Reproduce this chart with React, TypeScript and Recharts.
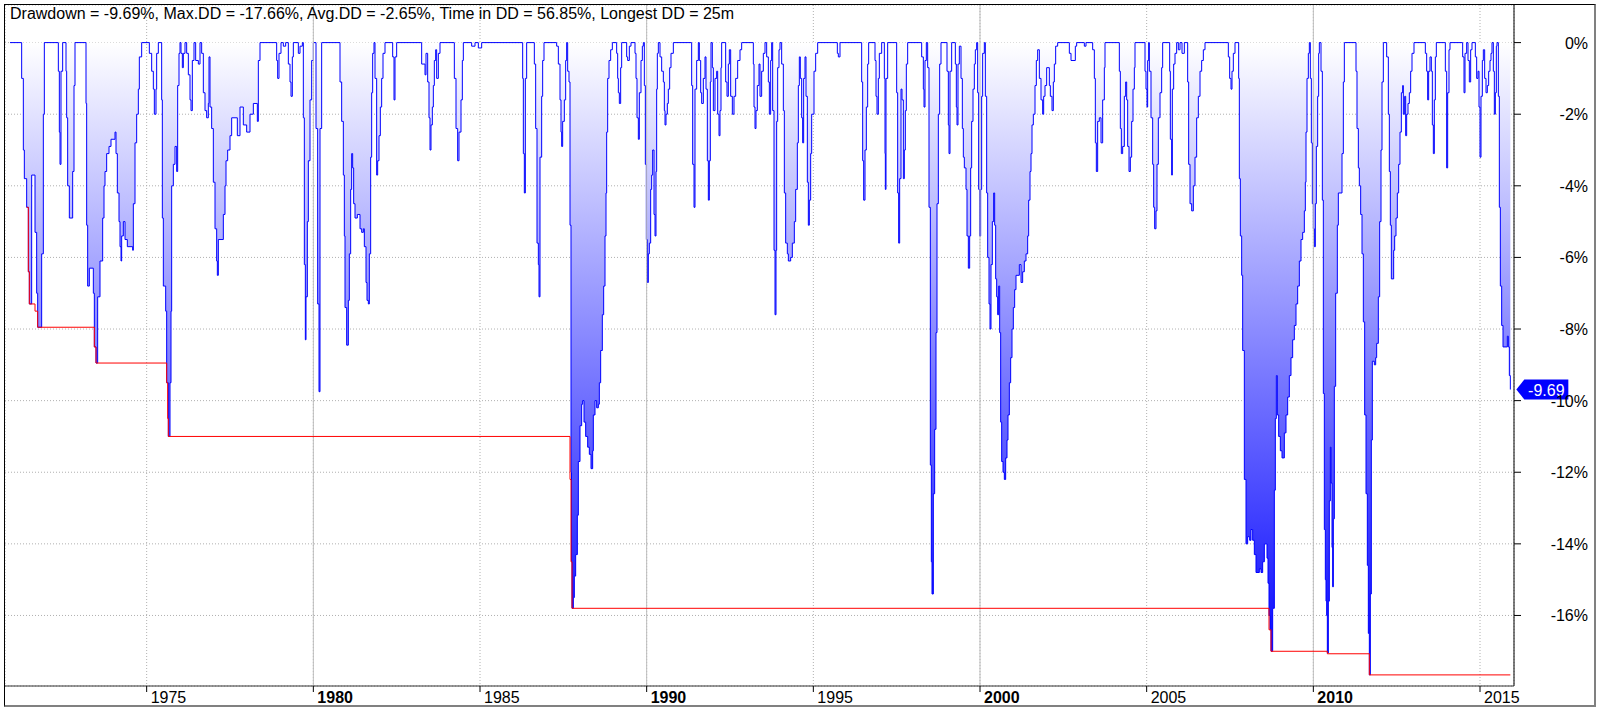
import React from 'react';
import {
  Area,
  CartesianGrid,
  ComposedChart,
  Line,
  ReferenceDot,
  ReferenceLine,
  XAxis,
  YAxis,
} from 'recharts';

// [year, drawdown %], one list per stretch of years
const dd1971to1977: [number, number][] = [
  [1970.9, 0], [1971.25, -1.0], [1971.3, -3.0], [1971.33, -3.8], [1971.4, -4.6], [1971.45, -6.4],
  [1971.48, -7.3], [1971.55, -3.7], [1971.65, -5.3], [1971.7, -7.0], [1971.73, -7.95], [1971.85, -5.9],
  [1971.9, -2.0], [1971.93, 0], [1972.35, -0.8], [1972.38, -2.5], [1972.4, -3.4], [1972.43, -0.8],
  [1972.48, 0], [1972.58, -0.8], [1972.6, -2.1], [1972.63, -4.0], [1972.68, -4.9], [1972.78, -3.6],
  [1972.82, -1.2], [1972.85, 0], [1973.18, -1.7], [1973.2, -5.1], [1973.23, -6.8], [1973.28, -6.3],
  [1973.4, -7.0], [1973.43, -8.5], [1973.48, -8.95], [1973.53, -7.1], [1973.6, -6.1], [1973.68, -4.9],
  [1973.72, -4.0], [1973.75, -3.6], [1973.8, -3.1], [1973.87, -2.9], [1973.93, -2.7], [1974.05, -2.5],
  [1974.08, -3.1], [1974.12, -4.2], [1974.17, -5.0], [1974.2, -5.7], [1974.23, -6.1], [1974.25, -5.4],
  [1974.3, -5.0], [1974.35, -5.5], [1974.42, -5.7], [1974.58, -5.8], [1974.6, -4.5], [1974.65, -2.8],
  [1974.7, -2.0], [1974.75, -1.3], [1974.78, -0.4], [1974.85, 0], [1975.08, -0.3], [1975.15, -0.8],
  [1975.2, -1.3], [1975.23, -2.0], [1975.28, -1.3], [1975.3, -0.3], [1975.35, 0], [1975.45, -1.6],
  [1975.47, -4.9], [1975.5, -6.8], [1975.57, -7.5], [1975.6, -9.5], [1975.65, -11.0], [1975.7, -9.5],
  [1975.73, -7.5], [1975.75, -4.0], [1975.8, -3.4], [1975.85, -2.9], [1975.9, -3.6], [1975.93, -1.2],
  [1975.97, -0.3], [1976.0, 0], [1976.03, -0.3], [1976.07, -0.7], [1976.1, -0.3], [1976.15, 0],
  [1976.2, -0.3], [1976.25, -0.9], [1976.3, -1.6], [1976.33, -1.9], [1976.37, -0.5], [1976.42, 0],
  [1976.47, -0.5], [1976.55, -0.6], [1976.6, 0], [1976.65, -0.3], [1976.7, -1.4], [1976.75, -1.9],
  [1976.8, -2.1], [1976.85, -1.7], [1976.87, -0.4], [1976.9, -1.8], [1976.95, -2.4], [1977.0, -3.9],
  [1977.05, -5.2], [1977.1, -6.1], [1977.12, -6.5], [1977.15, -5.5], [1977.3, -4.8], [1977.35, -4.0],
];

const dd1977to1984: [number, number][] = [
  [1977.38, -3.3], [1977.43, -3.0], [1977.5, -2.6], [1977.55, -2.1], [1977.72, -2.6], [1977.8, -1.8],
  [1977.9, -2.3], [1978.0, -2.5], [1978.1, -2.0], [1978.2, -1.7], [1978.32, -2.2], [1978.35, -0.5],
  [1978.4, 0], [1978.9, -0.5], [1978.93, -1.0], [1978.97, -0.3], [1979.03, 0], [1979.1, -0.1],
  [1979.17, 0], [1979.25, -0.6], [1979.3, -1.1], [1979.33, -1.5], [1979.37, -0.4], [1979.4, 0],
  [1979.55, -0.3], [1979.6, -0.1], [1979.67, 0], [1979.7, -2.1], [1979.73, -6.2], [1979.76, -8.3],
  [1979.78, -7.1], [1979.82, -5.0], [1979.85, -3.3], [1979.9, -1.6], [1979.95, -0.5], [1980.0, 0],
  [1980.08, -2.4], [1980.13, -7.3], [1980.17, -9.75], [1980.2, -2.4], [1980.25, 0], [1980.8, -1.1],
  [1980.85, -2.2], [1980.9, -3.7], [1980.93, -5.4], [1980.95, -7.4], [1981.0, -8.45], [1981.05, -7.2],
  [1981.08, -5.9], [1981.12, -4.1], [1981.15, -3.1], [1981.18, -3.5], [1981.21, -4.5], [1981.25, -4.9],
  [1981.32, -4.8], [1981.4, -5.2], [1981.45, -5.3], [1981.5, -5.2], [1981.53, -5.7], [1981.58, -6.7],
  [1981.61, -7.2], [1981.65, -7.3], [1981.68, -5.9], [1981.72, -3.2], [1981.75, -1.4], [1981.78, -0.3],
  [1981.82, 0], [1981.85, -1.0], [1981.9, -3.7], [1981.93, -3.3], [1981.97, -2.6], [1982.01, -1.8],
  [1982.05, -1.0], [1982.09, -0.3], [1982.15, 0], [1982.38, -0.4], [1982.42, -1.6], [1982.45, -0.4],
  [1982.5, 0], [1983.25, -0.6], [1983.35, -0.9], [1983.38, -0.3], [1983.43, -1.1], [1983.47, -2.1],
  [1983.5, -3.0], [1983.53, -2.3], [1983.57, -1.8], [1983.6, -1.2], [1983.63, -0.5], [1983.67, -0.2],
  [1983.7, -1.0], [1983.75, -0.3], [1983.8, 0],
];

const dd1984to1990: [number, number][] = [
  [1984.23, -1.0], [1984.28, -2.4], [1984.33, -3.3], [1984.37, -2.5], [1984.43, -1.6], [1984.47, -0.5],
  [1984.5, 0], [1984.75, -0.1], [1984.85, 0], [1984.95, -0.15], [1985.05, 0], [1986.28, -1.0],
  [1986.3, -3.1], [1986.33, -4.2], [1986.36, -1.0], [1986.4, 0], [1986.63, -0.6], [1986.67, -2.4],
  [1986.71, -5.6], [1986.75, -6.2], [1986.77, -7.1], [1986.8, -3.2], [1986.85, -1.5], [1986.88, -0.5],
  [1986.92, 0], [1987.3, -0.1], [1987.35, -0.6], [1987.4, -1.6], [1987.43, -2.5], [1987.45, -2.9],
  [1987.48, -2.2], [1987.53, -1.6], [1987.57, -0.5], [1987.6, 0], [1987.63, -0.8], [1987.67, -1.1],
  [1987.7, -5.1], [1987.73, -12.0], [1987.745, -14.5], [1987.76, -15.8], [1987.8, -15.5], [1987.83, -14.9],
  [1987.87, -14.3], [1987.92, -13.2], [1987.95, -11.7], [1988.0, -10.7], [1988.05, -10.1], [1988.08, -10.0],
  [1988.12, -10.6], [1988.17, -11.0], [1988.23, -11.3], [1988.28, -11.5], [1988.33, -11.9], [1988.38, -11.4],
  [1988.4, -10.4], [1988.45, -10.0], [1988.5, -10.2], [1988.55, -10.1], [1988.58, -9.5], [1988.62, -8.6],
  [1988.67, -7.6], [1988.71, -6.8], [1988.75, -5.4], [1988.78, -4.2], [1988.8, -2.5], [1988.83, -1.0],
  [1988.87, -0.5], [1988.92, -0.2], [1988.97, 0], [1989.1, -0.3], [1989.13, -1.0], [1989.15, -1.4],
  [1989.18, -1.7], [1989.22, -0.7], [1989.25, 0], [1989.4, -0.4], [1989.43, -0.5], [1989.48, -0.1],
  [1989.53, 0], [1989.65, -0.3], [1989.68, -1.0], [1989.71, -2.1], [1989.75, -2.7], [1989.78, -1.4],
  [1989.83, -0.5], [1989.87, -0.1], [1989.9, 0], [1989.93, -1.2], [1989.96, -3.4], [1989.99, -5.5],
  [1990.02, -6.7], [1990.05, -5.9], [1990.08, -5.6], [1990.12, -4.1], [1990.15, -3.7], [1990.18, -3.0],
  [1990.22, -4.8], [1990.25, -5.4], [1990.28, -3.6], [1990.3, -1.3], [1990.32, -0.3], [1990.35, 0],
  [1990.4, -0.4], [1990.45, -0.8], [1990.5, -1.1], [1990.53, -1.9],
];

const dd1990to1997: [number, number][] = [
  [1990.55, -2.3], [1990.58, -2.0], [1990.62, -1.7], [1990.65, -1.3], [1990.69, -0.7], [1990.73, -0.3],
  [1990.8, 0], [1991.35, -1.2], [1991.38, -3.4], [1991.42, -4.6], [1991.45, -1.3], [1991.5, -0.5],
  [1991.55, 0], [1991.58, -0.5], [1991.62, -1.4], [1991.65, -1.7], [1991.7, -1.0], [1991.75, -0.4],
  [1991.78, -1.3], [1991.82, -3.3], [1991.85, -4.4], [1991.88, -3.3], [1991.91, -1.1], [1991.93, 0],
  [1991.97, -0.7], [1992.0, -1.9], [1992.05, -1.0], [1992.1, -0.8], [1992.13, -2.0], [1992.17, -2.6],
  [1992.2, -1.9], [1992.23, -0.7], [1992.25, 0], [1992.37, -1.1], [1992.41, -1.5], [1992.45, -0.6],
  [1992.48, -0.2], [1992.52, -1.5], [1992.57, -2.0], [1992.62, -1.5], [1992.67, -1.0], [1992.73, -0.5],
  [1992.8, -0.2], [1992.85, 0], [1993.2, -0.6], [1993.22, -1.8], [1993.25, -2.4], [1993.28, -1.9],
  [1993.32, -1.2], [1993.37, -0.6], [1993.4, -1.5], [1993.45, -0.8], [1993.5, -0.3], [1993.55, 0],
  [1993.6, -0.4], [1993.65, -1.1], [1993.68, -2.0], [1993.72, -0.5], [1993.75, 0], [1993.78, -1.9],
  [1993.82, -5.8], [1993.85, -7.6], [1993.88, -5.8], [1993.9, -2.2], [1993.93, -0.7], [1993.97, -0.2],
  [1994.0, 0], [1994.05, -0.6], [1994.1, -1.9], [1994.13, -4.2], [1994.17, -5.6], [1994.22, -5.9],
  [1994.25, -6.1], [1994.32, -6.0], [1994.37, -5.6], [1994.43, -5.0], [1994.47, -4.1], [1994.52, -2.8],
  [1994.55, -1.2], [1994.58, -0.4], [1994.61, -1.0], [1994.65, -2.1], [1994.68, -2.8], [1994.71, -1.0],
  [1994.75, -0.4], [1994.78, -1.5], [1994.82, -3.9], [1994.85, -5.1], [1994.88, -4.4], [1994.92, -3.1],
  [1994.95, -2.0], [1995.02, -0.8], [1995.07, -0.3], [1995.13, 0], [1995.72, -0.3], [1995.75, -0.4],
  [1995.8, 0], [1996.45, -1.1], [1996.48, -3.3], [1996.51, -4.4], [1996.55, -3.0], [1996.59, -1.8],
  [1996.63, -0.6], [1996.66, 0], [1996.85, -0.5], [1996.88, -1.5], [1996.91, -2.0], [1996.95, -1.0],
  [1996.98, -0.3], [1997.05, 0], [1997.13, -1.0], [1997.15, -3.1],
];

const dd1997to2003: [number, number][] = [
  [1997.16, -4.1], [1997.18, -1.0], [1997.23, 0], [1997.5, -1.4], [1997.53, -4.2], [1997.56, -5.6],
  [1997.59, -3.8], [1997.63, -1.3], [1997.66, -1.6], [1997.7, -3.8], [1997.73, -3.0], [1997.76, -1.9],
  [1997.79, -0.6], [1997.83, 0], [1998.25, -0.4], [1998.3, -1.3], [1998.32, -1.8], [1998.35, -0.5],
  [1998.39, 0], [1998.43, -0.7], [1998.47, -4.6], [1998.51, -11.8], [1998.54, -14.5], [1998.56, -15.4],
  [1998.6, -12.6], [1998.64, -10.8], [1998.68, -8.1], [1998.71, -4.5], [1998.75, -2.0], [1998.79, -0.6],
  [1998.83, 0], [1999.01, -0.8], [1999.05, -2.3], [1999.07, -3.1], [1999.1, -0.8], [1999.15, 0],
  [1999.26, -0.6], [1999.29, -1.8], [1999.31, -2.3], [1999.34, -0.6], [1999.38, -0.1], [1999.43, -1.0],
  [1999.47, -2.4], [1999.5, -3.2], [1999.53, -3.5], [1999.58, -4.1], [1999.61, -5.4], [1999.65, -6.3],
  [1999.69, -5.4], [1999.72, -3.5], [1999.75, -2.2], [1999.79, -1.3], [1999.83, -0.6], [1999.86, -0.2],
  [1999.9, 0], [1999.93, -1.4], [1999.96, -4.1], [1999.99, -5.4], [2000.02, -4.1], [2000.05, -1.5],
  [2000.08, -0.3], [2000.13, 0], [2000.16, -1.5], [2000.2, -4.2], [2000.23, -6.0], [2000.27, -7.3],
  [2000.3, -8.0], [2000.33, -6.2], [2000.37, -5.0], [2000.41, -4.2], [2000.44, -5.1], [2000.47, -6.6],
  [2000.5, -7.1], [2000.53, -7.6], [2000.56, -6.8], [2000.59, -8.1], [2000.62, -10.6], [2000.65, -11.7],
  [2000.69, -12.0], [2000.73, -12.2], [2000.77, -11.6], [2000.81, -11.1], [2000.84, -10.4], [2000.88, -9.5],
  [2000.92, -8.8], [2000.96, -8.0], [2001.0, -7.4], [2001.04, -6.9], [2001.08, -6.5], [2001.18, -6.2],
  [2001.23, -6.7], [2001.28, -6.4], [2001.33, -6.1], [2001.38, -5.9], [2001.43, -5.4], [2001.46, -4.4],
  [2001.5, -3.6], [2001.53, -3.1], [2001.56, -2.3], [2001.6, -2.0], [2001.65, -1.2], [2001.69, -0.5],
  [2001.73, -0.2], [2001.78, -1.0], [2001.83, -1.6], [2001.88, -2.0], [2001.91, -1.5], [2001.95, -1.2],
  [2002.0, -0.7], [2002.08, -1.2], [2002.11, -1.5], [2002.16, -1.9], [2002.2, -1.1], [2002.23, -0.6],
  [2002.27, -0.1], [2002.33, 0], [2002.68, -0.3], [2002.73, -0.5], [2002.86, -0.1], [2002.9, 0],
  [2003.13, -0.1], [2003.18, 0], [2003.38, -0.2], [2003.43, -1.0], [2003.46, -2.8], [2003.49, -3.6],
  [2003.53, -2.2], [2003.58, -2.1], [2003.63, -2.8], [2003.68, -1.6], [2003.73, -0.7],
];

const dd2003to2010: [number, number][] = [
  [2003.75, 0], [2004.18, -0.8], [2004.21, -2.4], [2004.24, -3.1], [2004.28, -2.9], [2004.33, -1.5],
  [2004.37, -1.1], [2004.4, -1.6], [2004.43, -2.9], [2004.47, -3.6], [2004.51, -3.2], [2004.55, -2.2],
  [2004.59, -1.3], [2004.63, -0.7], [2004.65, 0], [2004.95, -0.8], [2004.98, -1.3], [2005.01, -1.8],
  [2005.03, -0.5], [2005.06, 0], [2005.08, -0.8], [2005.13, -2.1], [2005.18, -3.4], [2005.21, -4.6],
  [2005.24, -5.2], [2005.28, -4.7], [2005.31, -3.4], [2005.35, -2.1], [2005.4, -1.4], [2005.45, -0.7],
  [2005.48, 0], [2005.69, -0.8], [2005.71, -2.7], [2005.75, -3.7], [2005.77, -1.3], [2005.81, -0.6],
  [2005.85, -0.3], [2005.9, 0], [2005.95, -0.2], [2006.0, 0], [2006.06, -0.3], [2006.13, 0],
  [2006.23, -1.1], [2006.26, -3.4], [2006.3, -4.5], [2006.35, -4.7], [2006.4, -4.0], [2006.45, -3.2],
  [2006.5, -2.1], [2006.55, -1.5], [2006.6, -0.8], [2006.65, -0.5], [2006.7, -0.2], [2006.75, 0],
  [2007.45, -0.4], [2007.49, -1.0], [2007.53, -1.3], [2007.56, -0.8], [2007.6, -0.3], [2007.65, 0],
  [2007.76, -1.0], [2007.78, -3.8], [2007.81, -5.4], [2007.85, -6.5], [2007.88, -8.6], [2007.93, -12.2],
  [2007.98, -14.0], [2008.03, -13.8], [2008.09, -13.9], [2008.13, -13.6], [2008.18, -13.9], [2008.23, -14.3],
  [2008.28, -14.8], [2008.38, -14.7], [2008.43, -14.8], [2008.48, -14.5], [2008.53, -14.0], [2008.61, -14.4],
  [2008.64, -15.1], [2008.67, -16.0], [2008.7, -16.4], [2008.73, -17.0], [2008.78, -15.8], [2008.83, -12.5],
  [2008.86, -10.5], [2008.89, -9.3], [2008.92, -10.4], [2008.96, -11.0], [2009.01, -11.4], [2009.06, -11.6],
  [2009.13, -10.9], [2009.18, -10.4], [2009.23, -9.9], [2009.28, -9.3], [2009.33, -8.8], [2009.38, -8.3],
  [2009.43, -7.9], [2009.48, -7.3], [2009.53, -6.8], [2009.58, -6.1], [2009.63, -5.5], [2009.68, -5.3],
  [2009.73, -4.7], [2009.76, -3.9], [2009.78, -2.5], [2009.81, -1.0], [2009.85, -0.3], [2009.88, 0],
  [2009.91, -1.0], [2009.94, -2.8], [2009.97, -4.5], [2010.0, -5.2], [2010.03, -5.7], [2010.06, -4.5],
  [2010.09, -2.9], [2010.13, -1.5], [2010.16, -0.3], [2010.18, 0], [2010.23, -0.8], [2010.27, -4.4],
  [2010.3, -9.8], [2010.33, -13.6],
];

const dd2010to2015: [number, number][] = [
  [2010.36, -15.0], [2010.38, -15.6], [2010.4, -16.0], [2010.42, -17.05], [2010.45, -15.6], [2010.48, -12.8],
  [2010.51, -11.3], [2010.53, -12.3], [2010.56, -14.1], [2010.58, -15.2], [2010.6, -13.3], [2010.63, -9.6],
  [2010.67, -7.0], [2010.72, -5.1], [2010.75, -4.2], [2010.86, -3.1], [2010.9, -1.1], [2010.93, 0],
  [2011.28, -0.8], [2011.31, -2.4], [2011.35, -3.5], [2011.38, -4.0], [2011.42, -4.8], [2011.46, -5.9],
  [2011.5, -7.8], [2011.54, -10.4], [2011.58, -12.6], [2011.62, -14.6], [2011.65, -16.5], [2011.68, -17.66],
  [2011.71, -15.4], [2011.74, -11.1], [2011.77, -8.9], [2011.83, -9.0], [2011.87, -8.8], [2011.9, -8.4],
  [2011.95, -7.1], [2011.99, -5.0], [2012.03, -3.0], [2012.06, -1.1], [2012.1, 0], [2012.2, -0.4],
  [2012.25, -2.0], [2012.28, -3.6], [2012.31, -5.1], [2012.34, -6.6], [2012.41, -5.8], [2012.44, -5.4],
  [2012.48, -4.9], [2012.52, -4.2], [2012.56, -3.4], [2012.6, -2.5], [2012.64, -1.4], [2012.68, -1.2],
  [2012.7, -2.0], [2012.74, -1.5], [2012.77, -2.6], [2012.8, -2.0], [2012.84, -1.7], [2012.88, -1.4],
  [2012.92, -0.8], [2012.96, -0.3], [2013.02, 0], [2013.36, -0.3], [2013.4, -0.8], [2013.43, -1.6],
  [2013.46, -0.8], [2013.5, -0.4], [2013.54, -0.8], [2013.57, -2.3], [2013.6, -3.1], [2013.63, -1.6],
  [2013.66, -0.4], [2013.69, 0], [2013.96, -0.8], [2014.0, -3.5], [2014.03, -1.4], [2014.07, -0.2],
  [2014.1, 0], [2014.48, -0.4], [2014.52, -1.4], [2014.55, -0.3], [2014.6, 0], [2014.64, -0.5],
  [2014.68, -1.1], [2014.72, -0.2], [2014.76, 0], [2014.86, -0.4], [2014.9, -1.0], [2014.94, -0.8],
  [2014.97, -1.8], [2015.0, -3.2], [2015.03, -1.5], [2015.07, -0.5], [2015.1, -0.2], [2015.14, -1.0],
  [2015.18, -1.4], [2015.22, -1.2], [2015.26, -0.8], [2015.3, -0.5], [2015.33, -0.3], [2015.36, 0],
  [2015.4, -0.8], [2015.43, -2.0], [2015.46, -1.4], [2015.49, -0.1], [2015.51, 0], [2015.55, -1.5],
  [2015.58, -4.6], [2015.61, -6.8], [2015.65, -7.9], [2015.69, -8.5], [2015.82, -8.2], [2015.85, -8.5],
  [2015.88, -9.3], [2015.91, -9.69],
];

// running maximum drawdown (red line), [year, %], shown from where it leaves the blue line
const maxDdSteps: [number, number][] = [
  [1971.4, -4.6], [1971.45, -6.4], [1971.48, -7.3], [1971.65, -7.5], [1971.73, -7.95], [1973.43, -8.5],
  [1973.48, -8.95], [1975.6, -9.5], [1975.63, -10.5], [1975.65, -11.0], [1987.7, -12.2], [1987.73, -14.5],
  [1987.76, -15.8], [2008.67, -16.4], [2008.73, -17.0], [2010.42, -17.07], [2011.68, -17.66],
  [2015.91, -17.66],
];

const yearTicks = [1975, 1980, 1985, 1990, 1995, 2000, 2005, 2010, 2015];
const decadeYears = [1980, 1990, 2000, 2010];
const pctTicks = [0, -2, -4, -6, -8, -10, -12, -14, -16];
const title =
  'Drawdown = -9.69%, Max.DD = -17.66%, Avg.DD = -2.65%, Time in DD = 56.85%, Longest DD = 25m';

const toPoints = (rows: [number, number][]) => rows.map(([t, v]) => ({ t, v }));

const drawdown = toPoints([
  ...dd1971to1977,
  ...dd1977to1984,
  ...dd1984to1990,
  ...dd1990to1997,
  ...dd1997to2003,
  ...dd2003to2010,
  ...dd2010to2015,
]);
const maxDrawdown = toPoints(maxDdSteps);
const last = drawdown[drawdown.length - 1];

const FONT = '"Liberation Sans", Arial, sans-serif';

const YearTick = ({ x, y, payload }: any) => (
  <text
    x={x + 4}
    y={y + 9}
    textAnchor="start"
    fontFamily={FONT}
    fontSize={16}
    fontWeight={decadeYears.includes(payload.value) ? 'bold' : 'normal'}
    fill="#000"
  >
    {payload.value}
  </text>
);

const PctTick = ({ x, y, payload }: any) => (
  <text x={x + 65} y={y + 6} textAnchor="end" fontFamily={FONT} fontSize={16} fill="#000">
    {`${payload.value}%`}
  </text>
);

const LastBadge = ({ cx, cy }: any) => (
  <g>
    <polygon
      points={`${cx + 6},${cy} ${cx + 14},${cy - 10} ${cx + 58},${cy - 10} ${cx + 58},${cy + 10} ${cx + 14},${cy + 10}`}
      fill="#0000ff"
    />
    <text x={cx + 36} y={cy + 6} textAnchor="middle" fontFamily={FONT} fontSize={16} fill="#fff">
      {last.v.toFixed(2)}
    </text>
  </g>
);

export default function App() {
  return (
    <div style={{ position: 'absolute', left: 0, top: 0, width: 1600, height: 712, background: '#fff' }}>
      <ComposedChart width={1600} height={712} margin={{ top: 5, right: 0, bottom: 0, left: 5 }}>
        <defs>
          <linearGradient id="ddFill" x1="0" y1="0" x2="0" y2="1">
            <stop offset="0%" stopColor="#ffffff" />
            <stop offset="100%" stopColor="#0000ff" />
          </linearGradient>
        </defs>
        <CartesianGrid stroke="#b0b0b0" strokeDasharray="1 2" />
        {decadeYears.map((yr) => (
          <ReferenceLine key={yr} x={yr} stroke="#bdbdbd" strokeWidth={1} />
        ))}
        <XAxis
          type="number"
          dataKey="t"
          domain={[1970.75, 2016.02]}
          allowDataOverflow
          ticks={yearTicks}
          height={26}
          tickSize={6}
          tick={<YearTick />}
          axisLine={{ stroke: '#333' }}
          tickLine={{ stroke: '#000' }}
        />
        <YAxis
          orientation="right"
          type="number"
          domain={[-17.97, 1.05]}
          allowDataOverflow
          ticks={pctTicks}
          width={86}
          tickSize={7}
          tick={<PctTick />}
          axisLine={{ stroke: '#000' }}
          tickLine={{ stroke: '#000' }}
        />
        <Line
          data={maxDrawdown}
          dataKey="v"
          type="stepAfter"
          stroke="#ff0000"
          strokeWidth={1}
          dot={false}
          isAnimationActive={false}
        />
        <Area
          data={drawdown}
          dataKey="v"
          type="stepAfter"
          baseValue={0}
          stroke="#0000ff"
          strokeWidth={1}
          fill="url(#ddFill)"
          fillOpacity={1}
          isAnimationActive={false}
        />
        <ReferenceDot x={last.t} y={last.v} r={0} ifOverflow="visible" shape={<LastBadge />} />
      </ComposedChart>
      <div
        style={{
          position: 'absolute',
          left: 10,
          top: 5,
          fontFamily: FONT,
          fontSize: 16,
          lineHeight: '18px',
          color: '#000',
          whiteSpace: 'nowrap',
        }}
      >
        {title}
      </div>
      <div
        style={{
          position: 'absolute',
          left: 4,
          top: 4,
          width: 1592,
          height: 703,
          boxSizing: 'border-box',
          borderTop: '1px solid #000',
          borderLeft: '1px solid #000',
          borderRight: '2px solid #808080',
          borderBottom: '2px solid #808080',
          pointerEvents: 'none',
        }}
      />
    </div>
  );
}
